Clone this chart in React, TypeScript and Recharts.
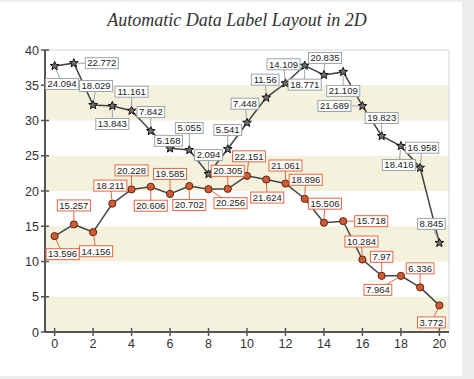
import React from "react";
import { LineChart, Line, XAxis, YAxis, ReferenceArea, LabelList } from "recharts";

// x categories
const xValues = [0, 1, 2, 3, 4, 5, 6, 7, 8, 9, 10, 11, 12, 13, 14, 15, 16, 17, 18, 19, 20];

// star series (upper line) and the numbers printed in its labels
const starValues = [37.74, 38.13, 32.2, 32.06, 31.39, 28.51, 26.05, 25.81, 22.4, 25.95, 29.69, 33.24, 35.28, 37.78, 36.46, 36.89, 32.06, 27.8, 26.38, 23.3, 12.64];
const starLabels = ["24.094", "22.772", "18.029", "13.843", "11.161", "7.842", "5.168", "5.055", "2.094", "5.541", "7.448", "11.56", "14.109", "18.771", "20.835", "21.109", "21.689", "19.823", "18.416", "16.958", "8.845"];

// circle series (lower line)
const circleValues = [13.596, 15.257, 14.156, 18.211, 20.228, 20.606, 19.585, 20.702, 20.256, 20.305, 22.151, 21.624, 21.061, 18.896, 15.506, 15.718, 10.284, 7.97, 7.964, 6.336, 3.772];

const xTicks = [0, 2, 4, 6, 8, 10, 12, 14, 16, 18, 20];
const yTicks = [0, 5, 10, 15, 20, 25, 30, 35, 40];
const bands = [[0, 5], [10, 15], [20, 25], [30, 35]];

// label placement (pixel offsets of label centre from its point)
const starOffsets = [[7.5, 18], [28, 0], [3, -19], [0, 18], [0, -19], [0, -19], [-1.5, -7.5], [0, -22], [0, -19], [0, -19], [-2, -19], [-1, -18], [-2, -19], [0, 19], [1, -17], [0, 19], [-28, 0], [0, -18], [-2, 19], [2, -20], [-8, -19]];
const circleOffsets = [[8, 18], [0, -19], [3, 19], [-2, -18], [0, -19], [0, 19], [0, -20], [0, 19], [22, 14], [0, -18], [2, -19.5], [1, 18], [0, -18], [1, -19], [1, -19], [28, 0], [-1, -18], [0, -19], [-23, 14], [0, -19], [-8, 17]];

const data = xValues.map((x, i) => ({
	x,
	star: starValues[i],
	starLabel: starLabels[i],
	circle: circleValues[i],
	circleLabel: circleValues[i].toString(),
}));

const FONT = "'Liberation Sans', Arial, sans-serif";

const textWidth = (s: string) => {
	let w = 0;
	for (const c of s) w += c === "." ? 2.64 : 5.28;
	return w;
};

const makeLabel = (offsets: number[][], labels: string[], color: string) => (props: any) => {
	const { x, y, value } = props;
	let index = props.index;
	if (index === undefined) index = labels.indexOf(String(value));
	const off = offsets[index] || [0, -18];
	const cx = x + off[0];
	const cy = y + off[1];
	const text = String(value);
	const w = textWidth(text) + 4;
	const h = 11;
	const len = Math.hypot(off[0], off[1]) || 1;
	const sx = x + (off[0] / len) * 4;
	const sy = y + (off[1] / len) * 4;
	return (
		<g>
			<line x1={sx} y1={sy} x2={cx} y2={cy} stroke={color} strokeWidth={1} />
			<rect x={cx - w / 2} y={cy - h / 2} width={w} height={h} fill="#fff" stroke={color} strokeWidth={1} />
			<text x={cx} y={cy + 3.3} textAnchor="middle" fontSize={9.5} fontFamily={FONT} fill="#222">
				{text}
			</text>
		</g>
	);
};

const StarDot = (props: any) => {
	const { cx, cy } = props;
	if (cx == null || cy == null) return null;
	const pts: string[] = [];
	for (let k = 0; k < 10; k++) {
		const r = k % 2 === 0 ? 4.6 : 2;
		const a = -Math.PI / 2 + (k * Math.PI) / 5;
		pts.push(`${cx + r * Math.cos(a)},${cy + r * Math.sin(a)}`);
	}
	return <polygon points={pts.join(" ")} fill="#707070" stroke="#111" strokeWidth={1} />;
};

const CircleDot = (props: any) => {
	const { cx, cy } = props;
	if (cx == null || cy == null) return null;
	return <circle cx={cx} cy={cy} r={3.6} fill="#cf5a33" stroke="#5e2412" strokeWidth={1} />;
};

const YTick = (props: any) => {
	const { x, y, payload } = props;
	return (
		<g>
			<line x1={x - 4} x2={x + 4} y1={y} y2={y} stroke="#555" strokeWidth={1.5} />
			<text x={x - 6} y={y + 4.5} textAnchor="end" fontSize={12.5} fontFamily={FONT} fill="#333">
				{payload.value}
			</text>
		</g>
	);
};

const XTick = (props: any) => {
	const { x, y, payload } = props;
	return (
		<g>
			<line x1={x} x2={x} y1={y - 4} y2={y + 4} stroke="#555" strokeWidth={1.5} />
			<text x={x} y={y + 16} textAnchor="middle" fontSize={12.5} fontFamily={FONT} fill="#333">
				{payload.value}
			</text>
		</g>
	);
};

const App: React.FC = () => {
	return (
		<div style={{ position: "fixed", left: 0, top: 0, width: 474, height: 379, background: "#eeeeee" }}>
			<div style={{ position: "absolute", left: 0, top: 2, width: 462, height: 374, background: "#fff" }} />
			<div
				style={{
					position: "absolute",
					left: 0,
					top: 11,
					width: 474,
					textAlign: "center",
					fontFamily: "'Liberation Serif', 'Times New Roman', serif",
					fontStyle: "italic",
					fontSize: 18,
					lineHeight: "18px",
					color: "#333",
				}}
			>
				Automatic Data Label Layout in 2D
			</div>
			<div style={{ position: "absolute", left: 0, top: 0 }}>
				<LineChart width={474} height={379} data={data} margin={{ top: 50, right: 25, bottom: 17, left: 8 }}>
					{bands.map(([a, b]) => (
						<ReferenceArea key={a} x1={-0.5} x2={20.5} y1={a} y2={b} fill="#f4f2dc" fillOpacity={1} stroke="none" ifOverflow="visible" />
					))}
					<ReferenceArea x1={-0.5} x2={20.5} y1={0} y2={40} fill="none" stroke="#d6d6d6" strokeWidth={1} ifOverflow="visible" />
					<XAxis
						dataKey="x"
						type="number"
						domain={[-0.5, 20.5]}
						ticks={xTicks}
						height={30}
						tickSize={0}
						tickMargin={0}
						tickLine={false}
						tick={<XTick />}
						axisLine={{ stroke: "#555", strokeWidth: 2 }}
						interval={0}
					/>
					<YAxis
						type="number"
						domain={[0, 40]}
						ticks={yTicks}
						width={37}
						tickSize={0}
						tickMargin={0}
						tickLine={false}
						tick={<YTick />}
						axisLine={{ stroke: "#555", strokeWidth: 2 }}
						interval={0}
					/>
					<Line dataKey="star" stroke="#444" strokeWidth={1.5} dot={<StarDot />} isAnimationActive={false}>
						<LabelList dataKey="starLabel" content={makeLabel(starOffsets, starLabels, "#9aa4ae")} />
					</Line>
					<Line dataKey="circle" stroke="#444" strokeWidth={1.5} dot={<CircleDot />} isAnimationActive={false}>
						<LabelList dataKey="circleLabel" content={makeLabel(circleOffsets, data.map((d) => d.circleLabel), "#e8663f")} />
					</Line>
				</LineChart>
			</div>
		</div>
	);
};

export default App;
